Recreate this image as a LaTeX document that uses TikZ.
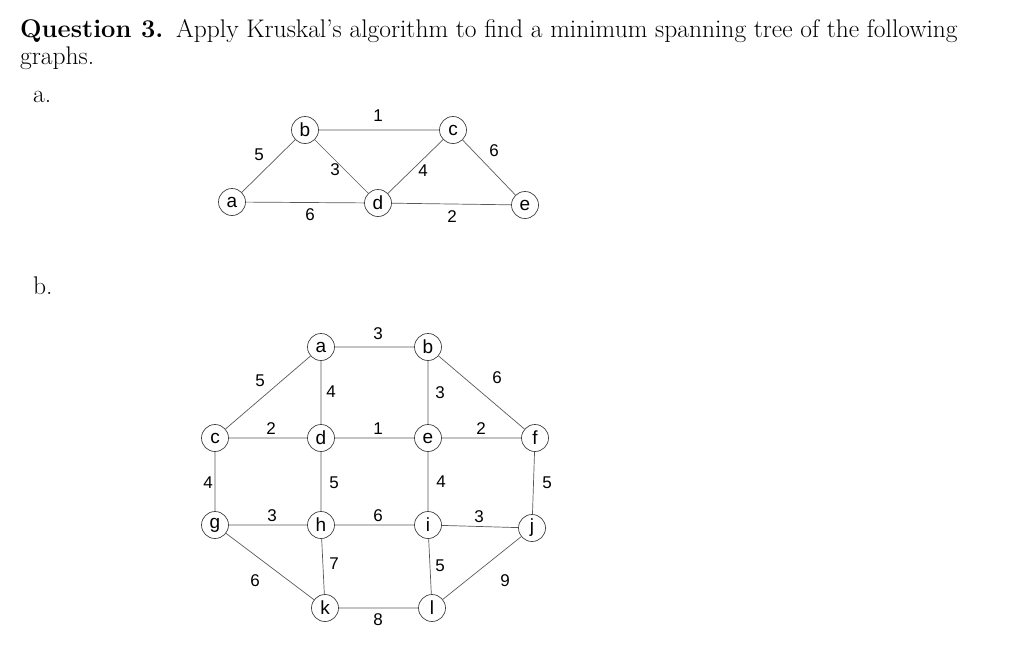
\documentclass[tikz,border=0pt]{standalone}
\usepackage{fontspec}
\newfontfamily\lab{Liberation Sans}
\begin{document}
\begin{tikzpicture}[x=1pt,y=-1pt,
 v/.style={circle,draw=black!75,line width=0.7pt,minimum size=27pt,inner sep=0pt,font=\lab\fontsize{19}{19}\selectfont},
 w/.style={font=\lab\fontsize{17}{17}\selectfont},
 ed/.style={draw=black!65,line width=0.7pt},
 tx/.style={anchor=base west,inner sep=0pt,font=\fontsize{25.5}{28}\selectfont}]
\useasboundingbox (0,0) rectangle (1024,648);
\node[tx] (t1) at (20,37) {\textbf{Question 3.}};
\node[tx] (t2) at (176,37) {Apply Kruskal's algorithm to find a minimum spanning tree of the following};
\node[tx] (t3) at (20,64) {graphs.};
\node[tx] (ta) at (33,102) {a.};
\node[tx] (tb) at (33,294) {b.};
% graph a
\node[v] (A) at (232,202) {a};
\node[v] (B) at (305,130) {b};
\node[v] (C) at (453,130) {c};
\node[v] (D) at (378,203) {d};
\node[v] (E) at (525,205) {e};
\draw[ed] (A)--(B) (B)--(C) (B)--(D) (C)--(D) (A)--(D) (D)--(E) (C)--(E);
\node[w] (wab) at (259,155) {5};
\node[w] (wbc) at (378,116) {1};
\node[w] (wbd) at (335,170) {3};
\node[w] (wcd) at (423,171) {4};
\node[w] (wad) at (310,215) {6};
\node[w] (wde) at (452,217) {2};
\node[w] (wce) at (494,151) {6};
% graph b
\node[v] (a) at (321,347) {a};
\node[v] (b) at (428,347) {b};
\node[v] (c) at (215,438) {c};
\node[v] (d) at (321,438) {d};
\node[v] (e) at (428,438) {e};
\node[v] (f) at (535,438) {f};
\node[v] (g) at (215,525) {g};
\node[v] (h) at (321,525) {h};
\node[v] (i) at (428,525) {i};
\node[v] (j) at (532,528) {j};
\node[v] (k) at (325,608) {k};
\node[v] (l) at (432,608) {l};
\draw[ed] (a)--(b) (a)--(c) (a)--(d) (b)--(e) (b)--(f) (c)--(d) (d)--(e) (e)--(f)
 (c)--(g) (d)--(h) (e)--(i) (f)--(j) (g)--(h) (h)--(i) (i)--(j) (g)--(k) (h)--(k)
 (i)--(l) (j)--(l) (k)--(l);
\node[w] (w1) at (378,334) {3};
\node[w] (w2) at (260,381) {5};
\node[w] (w3) at (331,392) {4};
\node[w] (w4) at (440,393) {3};
\node[w] (w5) at (497,378) {6};
\node[w] (w6) at (271,429) {2};
\node[w] (w7) at (378,429) {1};
\node[w] (w8) at (481,429) {2};
\node[w] (w9) at (208,483) {4};
\node[w] (w10) at (334,483) {5};
\node[w] (w11) at (441,482) {4};
\node[w] (w12) at (547,483) {5};
\node[w] (w13) at (272,516) {3};
\node[w] (w14) at (378,516) {6};
\node[w] (w15) at (479,517) {3};
\node[w] (w16) at (255,581) {6};
\node[w] (w17) at (334,564) {7};
\node[w] (w18) at (440,566) {5};
\node[w] (w19) at (505,581) {9};
\node[w] (w20) at (378,620) {8};
\end{tikzpicture}
\end{document}
